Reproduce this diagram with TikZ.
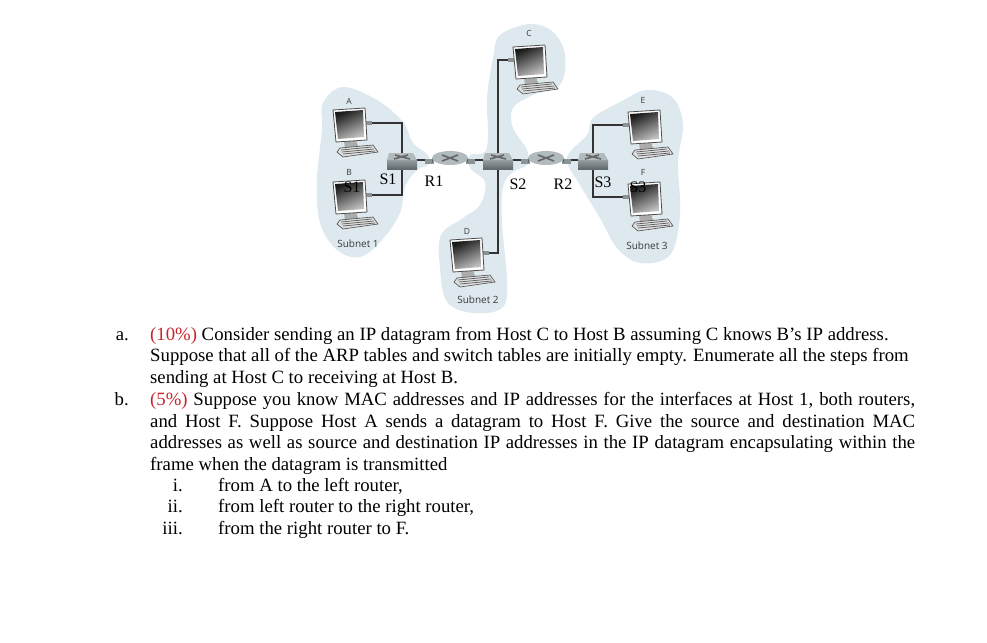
\documentclass[tikz,border=0pt]{standalone}
\usepackage{fontspec}
\setmainfont{Liberation Serif}
\newfontfamily\labelfont{Open Sans}
\usepackage{tikz}

\definecolor{subnetblue}{HTML}{DDE9EE}
\definecolor{pctext}{HTML}{3A3A3A}
\definecolor{pointred}{HTML}{C4262E}
\definecolor{boxgray}{HTML}{A3AEB2}

\tikzset{
    wire/.style = {draw = black!80, line width = 1.3pt},
    blob/.style = {fill = subnetblue, draw = none},
    hostname/.style = {font = \labelfont\fontsize{8.5}{9}\selectfont, text = pctext, inner sep = 0pt},
    subnetname/.style = {font = \labelfont\fontsize{10}{11}\selectfont, text = pctext, inner sep = 0pt},
    devname/.style = {font = \fontsize{16}{18}\selectfont, inner sep = 0pt},
    bodytext/.style = {font = \fontsize{18.75}{21.5}\selectfont, inner sep = 0pt, anchor = base west},
    itemtext/.style = {bodytext, text width = 765pt},
    itemmark/.style = {font = \fontsize{18.75}{21.5}\selectfont, inner sep = 0pt, anchor = base east},
    hostpc/.pic = {
        \fill[boxgray!85!black] ({#1*16},-4) rectangle ({#1*22},0);
        \coordinate (-port) at ({#1*22},-2);
        \fill[gray!65] (-6,16) -- (6,15) -- (8,21) -- (-5,23) -- cycle;
        \draw[black!70, fill = gray!25, line width = .6pt] (-13,27) -- (-10,23) -- (23,20) -- (28,27) -- (-7,32) -- cycle;
        \draw[black!65, line width = .7pt] (-9,25) -- (22,22) (-8,27) -- (24,24) (-7,29) -- (25,26);
        \draw[black!70, fill = white, line width = .8pt] (-17,-15) -- (15,-17) -- (17,15) -- (-14,17) -- cycle;
        \shade[left color = black!90, right color = black!25, shading angle = 25]
            (-15,-13) -- (13,-15) -- (14,12) -- (-12,14) -- cycle;
    },
    switchbox/.pic = {
        \coordinate (-c) at (0,0);
        \shade[top color = boxgray!90!black, bottom color = boxgray!60!black] (-15,0) rectangle (15,9);
        \fill[boxgray!85] (-13,-7) -- (11,-7) -- (15,0) -- (-15,0) -- cycle;
        \draw[black!60, line width = 1.6pt] (-7,-5) -- (8,-1) (-8,-1) -- (6,-5);
    },
    routerbox/.pic = {
        \coordinate (-c) at (0,0);
        \fill[boxgray!85!black] (-25,-1) rectangle (-16,4);
        \fill[boxgray!85!black] (16,-1) rectangle (25,4);
        \shade[left color = boxgray!55!black, right color = boxgray!55!black, middle color = boxgray!85!black]
            (-18,-2) -- (-18,3) arc[start angle = 180, end angle = 360, x radius = 18, y radius = 7] -- (18,-2) -- cycle;
        \fill[boxgray!85] (0,-2) ellipse [x radius = 18, y radius = 7];
        \draw[black!60, line width = 1.6pt] (-8,-5) -- (8,1) (-8,1) -- (8,-5);
    }
}

\begin{document}
\begin{tikzpicture}[x = 1pt, y = -1pt]
    \useasboundingbox (0,0) rectangle (987,642);

    \path[blob] plot[smooth cycle, tension = 0.6] coordinates {
        (343,87) (377,100) (403,122) (413,143) (428,155) (428,165) (417,170) (405,187)
        (400,213) (382,240) (360,257) (337,250) (320,223) (317,180) (322,130) (323,103)};
    \path[blob] plot[smooth cycle, tension = 0.6] coordinates {
        (530,24) (553,32) (565,55) (560,85) (533,95) (513,108) (513,128) (527,150)
        (527,165) (513,172) (503,187) (502,222) (507,282) (502,308) (473,313) (447,302)
        (440,268) (441,235) (463,218) (480,205) (485,182) (470,168) (470,155) (485,152)
        (488,132) (487,98) (493,58) (500,35)};
    \path[blob] plot[smooth cycle, tension = 0.6] coordinates {
        (567,158) (587,135) (593,118) (620,102) (647,90) (673,98) (683,125) (678,162)
        (680,215) (670,255) (640,263) (617,248) (600,218) (580,185)};

    \pic (hostA) at (350,125) {hostpc=1};
    \pic (hostB) at (350,197) {hostpc=1};
    \pic (hostC) at (530,62) {hostpc=-1};
    \pic (hostD) at (467,255) {hostpc=1};
    \pic (hostE) at (645,127) {hostpc=-1};
    \pic (hostF) at (645,199) {hostpc=-1};

    \coordinate (S1pos) at (402,160);
    \coordinate (S2pos) at (498,160);
    \coordinate (S3pos) at (593,160);

    \draw[wire] (hostA-port) -| (S1pos);
    \draw[wire] (hostB-port) -| (S1pos);
    \draw[wire] (hostC-port) -| (S2pos);
    \draw[wire] (hostD-port) -| (S2pos);
    \draw[wire] (hostE-port) -| (S3pos);
    \draw[wire] (hostF-port) -| (S3pos);
    \draw[wire] (S1pos) -- (S2pos) -- (S3pos);

    \pic (S1) at (S1pos) {switchbox};
    \pic (S2) at (S2pos) {switchbox};
    \pic (S3) at (S3pos) {switchbox};
    \pic (R1) at (450,160) {routerbox};
    \pic (R2) at (546,160) {routerbox};

    \node[hostname] (labelA) at (349,101) {A};
    \node[hostname] (labelB) at (349,172) {B};
    \node[hostname] (labelC) at (529,33) {C};
    \node[hostname] (labelD) at (467,231) {D};
    \node[hostname] (labelE) at (643,100) {E};
    \node[hostname] (labelF) at (643,172) {F};

    \node[subnetname] (subnetA) at (358,244) {Subnet 1};
    \node[subnetname] (subnetB) at (478,300) {Subnet 2};
    \node[subnetname] (subnetC) at (647,246) {Subnet 3};

    \node[devname] (nameS1) at (388,179) {S1};
    \node[devname] (nameSa) at (352,187) {S1};
    \node[devname] (nameR1) at (434,181) {R1};
    \node[devname] (nameS2) at (518,184) {S2};
    \node[devname] (nameR2) at (563,184) {R2};
    \node[devname] (nameS3) at (603,182) {S3};
    \node[devname] (nameSb) at (638,187) {S3};

    \node[itemmark] (markA) at (129,340) {a.};
    \node[bodytext, align = left] (partA) at (150,383) {\textcolor{pointred}{(10\%)} Consider sending an IP datagram from Host C to Host B assuming C knows B’s IP address.\\
        Suppose that all of the ARP tables and switch tables are initially empty. Enumerate all the steps from\\
        sending at Host C to receiving at Host B.};
    \node[itemmark] (markB) at (129,405.5) {b.};
    \node[itemtext, align = justify] (partB) at (150,405.5) {\textcolor{pointred}{(5\%)} Suppose you know MAC addresses and IP addresses for the interfaces at Host 1, both routers,\linebreak
        and Host F. Suppose Host A sends a datagram to Host F. Give the source and destination MAC\linebreak
        addresses as well as source and destination IP addresses in the IP datagram encapsulating within the\linebreak
        frame when the datagram is transmitted};

    \node[itemmark] (markI) at (183,491) {i.};
    \node[itemmark] (markII) at (183,512.5) {ii.};
    \node[itemmark] (markIII) at (183,534) {iii.};
    \node[bodytext] (stepI) at (218,491) {from A to the left router,};
    \node[bodytext] (stepII) at (218,512.5) {from left router to the right router,};
    \node[bodytext] (stepIII) at (218,534) {from the right router to F.};
\end{tikzpicture}
\end{document}
